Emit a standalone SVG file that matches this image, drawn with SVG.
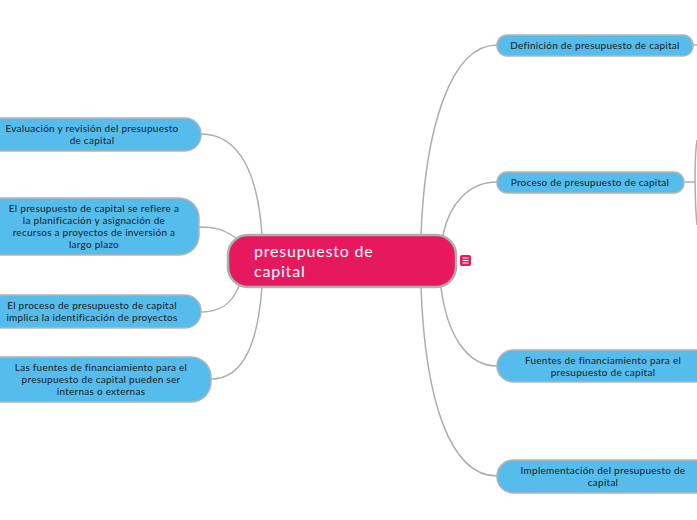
<svg xmlns="http://www.w3.org/2000/svg" width="697" height="520" viewBox="0 0 697 520">
<style>
.c{fill:none;stroke:#aeaeae;stroke-width:1.5}
.n{fill:#55bcec;stroke:#b4b4b4;stroke-width:1.5}
.t{font-family:"Lato","Noto Sans",sans-serif;font-size:10px;letter-spacing:.26px;fill:#1a1a1a;text-anchor:middle}
.r{fill:#e6195f;stroke:#aeaeae;stroke-width:2.500}
.rt{font-family:"Lato","Noto Sans",sans-serif;font-size:16px;fill:#fff;letter-spacing:.8px}
</style>
<rect width="697" height="520" fill="#fff"/>
<g id="connectors">
<path class="c" d="M262 235C258 175 240 134 201 134"/>
<path class="c" d="M236 238C223 229 215 227 199 227"/>
<path class="c" d="M239 286C232 304 220 312 201 312"/>
<path class="c" d="M262 287C258 340 245 379 211 379"/>
<path class="c" d="M421 235C425 130 450 45 497 45"/>
<path class="c" d="M443 235C449 205 468 182 497 182"/>
<path class="c" d="M441 287C447 335 467 366 497 366"/>
<path class="c" d="M421 287C425 400 450 476 497 476"/>
<path class="c" d="M693 45H697"/>
<path class="c" d="M685 182H695"/>
<path class="c" d="M697 140C694 160 695 205 697 225"/>
</g>
<g id="root"><rect class="r" x="228" y="235" width="228" height="52" rx="20"/>
<text class="rt" x="254" y="257">presupuesto de</text><text class="rt" x="254" y="277">capital</text></g>
<g id="root-icon"><rect x="460" y="255" width="11" height="11" rx="2" fill="#e6195f"/><path d="M462.500 258H468.500M462.500 260.500H468.500M462.500 263H468.500" stroke="#fff" stroke-width="1" fill="none"/></g>
<g id="n1"><rect class="n" x="-30" y="118" width="231" height="33" rx="16"/><text class="t" x="92" y="132">Evaluación y revisión del presupuesto</text><text class="t" x="92" y="144">de capital</text></g>
<g id="n2"><rect class="n" x="-30" y="198" width="229" height="57" rx="20"/><text class="t" x="94" y="212">El presupuesto de capital se refiere a</text><text class="t" x="94" y="224">la planificación y asignación de</text><text class="t" x="94" y="236">recursos a proyectos de inversión a</text><text class="t" x="94" y="248">largo plazo</text></g>
<g id="n3"><rect class="n" x="-30" y="295" width="231" height="33" rx="16"/><text class="t" x="92" y="309">El proceso de presupuesto de capital</text><text class="t" x="92" y="321">implica la identificación de proyectos</text></g>
<g id="n4"><rect class="n" x="-30" y="357" width="241" height="45" rx="20"/><text class="t" x="101" y="371">Las fuentes de financiamiento para el</text><text class="t" x="101" y="383">presupuesto de capital pueden ser</text><text class="t" x="101" y="395">internas o externas</text></g>
<g id="n5"><rect class="n" x="497" y="35" width="196" height="21" rx="10"/><text class="t" x="595" y="49">Definición de presupuesto de capital</text></g>
<g id="n6"><rect class="n" x="497" y="172" width="187" height="21" rx="10"/><text class="t" x="590" y="186">Proceso de presupuesto de capital</text></g>
<g id="n7"><rect class="n" x="497" y="350" width="230" height="32" rx="16"/><text class="t" x="603" y="364">Fuentes de financiamiento para el</text><text class="t" x="603" y="376">presupuesto de capital</text></g>
<g id="n8"><rect class="n" x="497" y="460" width="230" height="33" rx="16"/><text class="t" x="603" y="474">Implementación del presupuesto de</text><text class="t" x="603" y="486">capital</text></g>
</svg>
